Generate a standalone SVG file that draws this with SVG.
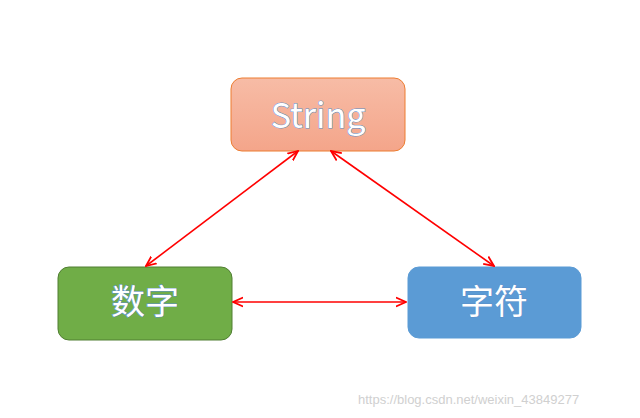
<svg xmlns="http://www.w3.org/2000/svg" width="640" height="418" viewBox="0 0 640 418">
<style>
.t{font-family:"Noto Sans CJK SC","Open Sans",sans-serif;font-size:34px;fill:#fff;stroke:#5b8fc9;stroke-width:1;text-anchor:middle;paint-order:stroke}
.c{stroke:#ff0000;stroke-width:1.6;fill:none;marker-start:url(#a);marker-end:url(#a)}
.w{font-family:"Liberation Sans",sans-serif;font-size:13px;fill:#d0d0d0}
</style>
<defs>
<linearGradient id="g1" x1="0" y1="0" x2="0" y2="1"><stop offset="0" stop-color="#f7bca6"/><stop offset="1" stop-color="#f4a58a"/></linearGradient>
<marker id="a" viewBox="0 0 10 10" refX="9" refY="5" markerWidth="7" markerHeight="7" orient="auto-start-reverse"><path d="M0,1 L9,5 L0,9" fill="none" stroke="#ff0000" stroke-width="1.6"/></marker>
</defs>
<rect width="640" height="418" fill="#fff"/>
<g id="string"><rect x="231" y="78" width="174" height="73" rx="11" fill="url(#g1)" stroke="#ed7d31" stroke-width="1"/><text class="t" x="318" y="128">String</text></g>
<g id="shuzi"><rect x="58" y="267" width="174" height="73" rx="11" fill="#70ad47" stroke="#507e32" stroke-width="1"/><text class="t" x="145" y="314">数字</text></g>
<g id="zifu"><rect x="408" y="267" width="173" height="71" rx="11" fill="#5b9bd5" stroke="#5b9bd5" stroke-width="1"/><text class="t" x="494" y="314">字符</text></g>
<g id="connectors">
<line class="c" x1="298" y1="151" x2="146" y2="266"/>
<line class="c" x1="331" y1="151" x2="494" y2="266"/>
<line class="c" x1="233" y1="302" x2="406" y2="302"/>
</g>
<text class="w" x="358" y="404">https://blog.csdn.net/weixin_43849277</text>
</svg>
